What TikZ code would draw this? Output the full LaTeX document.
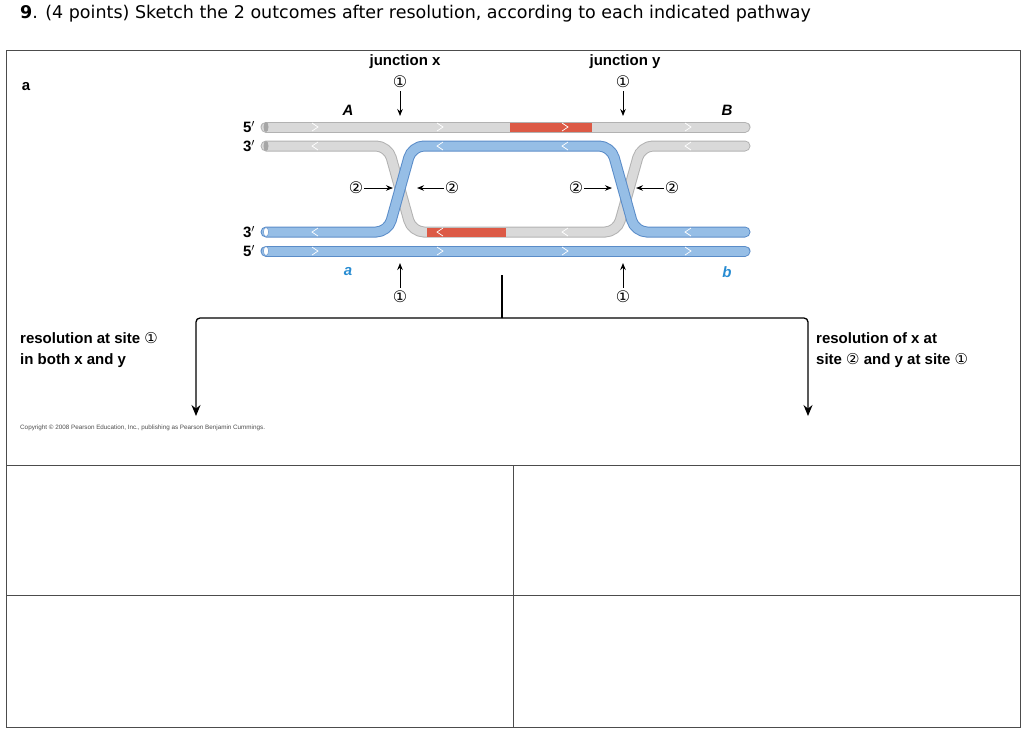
\documentclass[tikz,border=0pt]{standalone}
\usepackage{fontspec}
\setmainfont{Liberation Sans}
\newfontfamily\titlefont{DejaVu Sans}
\newfontfamily\symfont{DejaVu Sans}
\usetikzlibrary{arrows.meta}
\definecolor{bout}{RGB}{90,140,200}
\definecolor{bin}{RGB}{150,190,230}
\definecolor{rin}{RGB}{220,90,70}
\definecolor{btext}{RGB}{40,140,210}
\begin{document}
\begin{tikzpicture}[x=1pt,y=-1pt,
  lbl/.style={font=\bfseries\fontsize{15}{18}\selectfont,inner sep=0pt},
  ital/.style={font=\bfseries\itshape\fontsize{15}{18}\selectfont,inner sep=0pt},
  circ/.style={font=\symfont\fontsize{16}{16}\selectfont,inner sep=0pt},
  arr/.style={-{Stealth[length=7pt,width=5.5pt]},line width=1pt},
  grayout/.style={line width=11pt,draw=gray!60,line cap=round},
  grayin/.style={line width=9pt,draw=gray!30,line cap=round},
  blueout/.style={line width=11pt,draw=bout,line cap=round},
  bluein/.style={line width=9pt,draw=bin,line cap=round},
  redin/.style={line width=9pt,draw=rin},
  chev/.style={white,line width=0.7pt},
  frame/.style={draw=gray!60!black,line width=0.9pt}]
\useasboundingbox (0,0) rectangle (1024,732);
\node[anchor=west,inner sep=0pt,font=\titlefont\fontsize{17.5}{20}\selectfont] (title) at (20,14) {\textbf{9}. (4 points) Sketch the 2 outcomes after resolution, according to each indicated pathway};
\draw[frame] (6,50) rectangle (1020,727);
\draw[frame] (6,465) -- (1020,465);
\draw[frame] (6,595) -- (1020,595);
\draw[frame] (513,465) -- (513,727);
\node[lbl] (la) at (26,87) {a};
\draw[grayout] (266,127) -- (745,127);
\draw[grayin] (266,127) -- (745,127);
\draw[redin] (510,127) -- (592,127);
\draw[grayout,rounded corners=12pt] (266,146) -- (388,146) -- (412,232) -- (617,232) -- (641,146) -- (745,146);
\draw[grayin,rounded corners=12pt] (266,146) -- (388,146) -- (412,232) -- (617,232) -- (641,146) -- (745,146);
\draw[redin] (427,232) -- (506,232);
\draw[blueout,rounded corners=12pt] (266,232) -- (388,232) -- (412,146) -- (611,146) -- (635,232) -- (745,232);
\draw[bluein,rounded corners=12pt] (266,232) -- (388,232) -- (412,146) -- (611,146) -- (635,232) -- (745,232);
\draw[blueout] (266,251) -- (745,251);
\draw[bluein] (266,251) -- (745,251);
\foreach \y in {127,146}{\fill[gray!70] (266,\y) ellipse (2.5pt and 5pt);}
\foreach \y in {232,251}{\draw[bout,fill=white] (266,\y) ellipse (2.5pt and 4.5pt);}
\foreach \x in {315,440,565,688}{\draw[chev] (\x-3,123)--(\x+3,127)--(\x-3,131);}
\foreach \x in {315,440,565,688}{\draw[chev] (\x-3,247)--(\x+3,251)--(\x-3,255);}
\foreach \x in {315,440,565,688}{\draw[chev] (\x+3,142)--(\x-3,146)--(\x+3,150);}
\foreach \x in {315,440,565,688}{\draw[chev] (\x+3,228)--(\x-3,232)--(\x+3,236);}
\node[lbl] (jx) at (405,62) {junction x};
\node[lbl] (jy) at (625,62) {junction y};
\node[circ] (c1) at (400,82) {①};
\node[circ] (c2) at (623,82) {①};
\coordinate (t1) at (400,116); \coordinate (t2) at (623,116);
\draw[arr] (c1.south) ++(0,3) -- (t1);
\draw[arr] (c2.south) ++(0,3) -- (t2);
\node[ital] (LA) at (348,110) {A};
\node[ital] (LB) at (727,110) {B};
\node[lbl] (p1) at (249,127) {5$'$};
\node[lbl] (p2) at (249,146) {3$'$};
\node[lbl] (p3) at (249,232) {3$'$};
\node[lbl] (p4) at (249,251) {5$'$};
\node[circ] (d1) at (356,188) {②};
\node[circ] (d2) at (452,188) {②};
\node[circ] (d3) at (576,188) {②};
\node[circ] (d4) at (672,188) {②};
\coordinate (e1) at (393,188); \coordinate (e2) at (417,188);
\coordinate (e3) at (612,188); \coordinate (e4) at (636,188);
\draw[arr] (d1.east) ++(1,0) -- (e1);
\draw[arr] (d2.west) ++(-1,0) -- (e2);
\draw[arr] (d3.east) ++(1,0) -- (e3);
\draw[arr] (d4.west) ++(-1,0) -- (e4);
\node[ital,text=btext] (la2) at (348,272) {a};
\node[ital,text=btext] (lb2) at (727,272) {b};
\node[circ] (f1) at (400,297) {①};
\node[circ] (f2) at (623,297) {①};
\coordinate (g1) at (400,263); \coordinate (g2) at (623,263);
\draw[arr] (f1.north) ++(0,-3) -- (g1);
\draw[arr] (f2.north) ++(0,-3) -- (g2);
\coordinate (s0) at (502,275); \coordinate (s1) at (502,318);
\coordinate (l0) at (196,318); \coordinate (l1) at (196,416);
\coordinate (r0) at (808,318); \coordinate (r1) at (808,416);
\draw[line width=1.3pt] (s0) -- (s1);
\draw[line width=1.3pt,rounded corners=4pt,-{Stealth[length=11pt,width=9pt]}] (s1) -- (l0) -- (l1);
\draw[line width=1.3pt,rounded corners=4pt,-{Stealth[length=11pt,width=9pt]}] (s1) -- (r0) -- (r1);
\node[lbl,anchor=north west,align=left,font=\bfseries\fontsize{15}{21}\selectfont] (lt) at (20,332) {resolution at site {\symfont\mdseries ①}\\in both x and y};
\node[lbl,anchor=north west,align=left,font=\bfseries\fontsize{15}{21}\selectfont] (rt) at (816,332) {resolution of x at\\site {\symfont\mdseries ②} and y at site {\symfont\mdseries ①}};
\node[anchor=west,inner sep=0pt,font=\fontsize{6.3}{7}\selectfont,text=gray!60!black] (copy) at (20,428) {Copyright © 2008 Pearson Education, Inc., publishing as Pearson Benjamin Cummings.};
\end{tikzpicture}
\end{document}
